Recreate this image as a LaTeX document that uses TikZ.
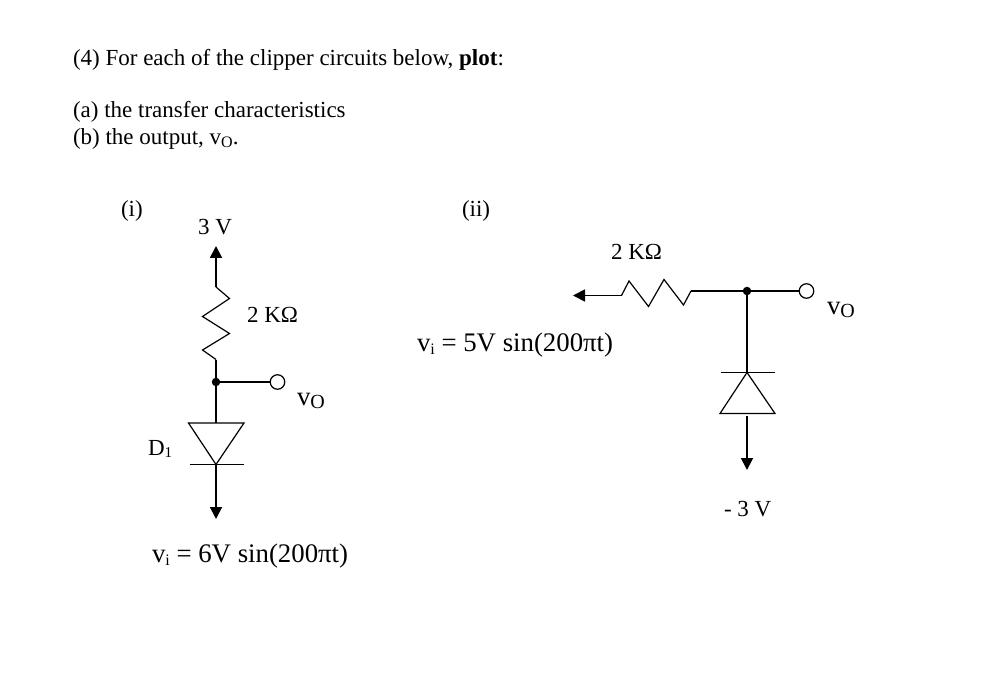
\documentclass[tikz,border=0pt]{standalone}
\usepackage{fontspec}
\setmainfont{Liberation Serif}
\usetikzlibrary{arrows.meta}
\newcommand{\sz}[1]{\fontsize{#1}{#1}\selectfont}
\newcommand{\subt}[2]{\raisebox{-0.13em}{\fontsize{#1}{#1}\selectfont #2}}
\tikzset{
  wire/.style={draw=black,line width=1.3pt},
  feed/.style={draw=black,line width=1.8pt,-{Triangle[length=12pt,width=12pt]}},
  lbl/.style={anchor=base west,inner sep=0pt,outer sep=0pt,text=black},
  body/.style={lbl,font=\sz{23}},
  cir/.style={lbl,font=\sz{23}},
  big/.style={lbl,font=\sz{26.8}},
  dot/.style={circle,fill=black,inner sep=0pt,minimum size=8.5pt},
  term/.style={circle,draw=black,line width=1.2pt,fill=white,inner sep=0pt,minimum size=14.5pt},
  res/.style={draw=black,line width=1.2pt,line join=miter},
  diode/.style={draw=black,line width=1.2pt,line join=miter}
}
\begin{document}
\begin{tikzpicture}[x=1pt,y=-1pt]
\useasboundingbox (0,0) rectangle (983,679);
\fill[white] (0,0) rectangle (983,679);
% text
\node[body] (t1) at (73,66) {(4) For each of the clipper circuits below, \textbf{plot}:};
\node[body] (t2) at (73,118) {(a) the transfer characteristics};
\node[body] (t3) at (73,145) {(b) the output, v\subt{16}{O}.};
\node[body] (c1) at (121,217) {(i)};
\node[body] (c2) at (462,217) {(ii)};
% circuit i
\coordinate (atop) at (216,246);
\coordinate (r1a) at (216,287);
\coordinate (r1b) at (216,359.5);
\node[dot] (j1) at (216,382) {};
\node[term] (o1) at (277.5,382) {};
\coordinate (d1a) at (216,423);
\coordinate (d1k) at (216,464.5);
\coordinate (abot) at (216,519);
\draw[feed] (r1a) -- (atop);
\draw[res] (r1a) -- (229.5,298.5) -- (202.5,316.5) -- (229.5,333.5) -- (202.5,350) -- (r1b);
\draw[wire] (r1b) -- (j1);
\draw[wire] (j1) -- (o1);
\draw[wire] (j1) -- (d1a);
\draw[diode] (188.5,423) -- (244,423) -- (d1k) -- cycle;
\draw[diode] (189.5,464.5) -- (243.5,464.5);
\draw[feed] (d1k) -- (abot);
\node[cir] (l3v) at (198,234.5) {3 V};
\node[cir] (lr1) at (247,323) {2 K\char"03A9};
\node[lbl,font=\sz{26.8}] (lvo1) at (297,405) {v\subt{20}{O}};
\node[cir] (ld1) at (148,455) {D\subt{15}{1}};
\node[big] (lvi1) at (152,562) {v\subt{16}{i} = 6V sin(200\char"03C0 t)};
% circuit ii
\coordinate (aleft) at (573,295.5);
\coordinate (r2a) at (621.5,295.5);
\coordinate (r2b) at (691,291);
\node[dot] (j2) at (747,291) {};
\node[term] (o2) at (806.5,291) {};
\coordinate (d2k) at (747,372.5);
\coordinate (d2a) at (747,416);
\coordinate (adown) at (747,470);
\draw[feed] (r2a) -- (aleft);
\draw[res] (r2a) -- (629,281) -- (648.5,306.5) -- (664,279.5) -- (683.5,305) -- (r2b);
\draw[wire] (r2b) -- (j2);
\draw[wire] (j2) -- (o2);
\draw[wire] (j2) -- (d2k);
\draw[diode] (720.5,372.5) -- (775,372.5);
\draw[diode] (d2k) -- (775,413.5) -- (720,413.5) -- cycle;
\draw[feed] (d2a) -- (adown);
\node[cir] (lr2) at (611,260) {2 K\char"03A9};
\node[lbl,font=\sz{26.8}] (lvo2) at (827,314) {v\subt{20}{O}};
\node[big] (lvi2) at (417,351) {v\subt{16}{i} = 5V sin(200\char"03C0 t)};
\node[cir] (l3n) at (724,516) {- 3 V};
\end{tikzpicture}
\end{document}
